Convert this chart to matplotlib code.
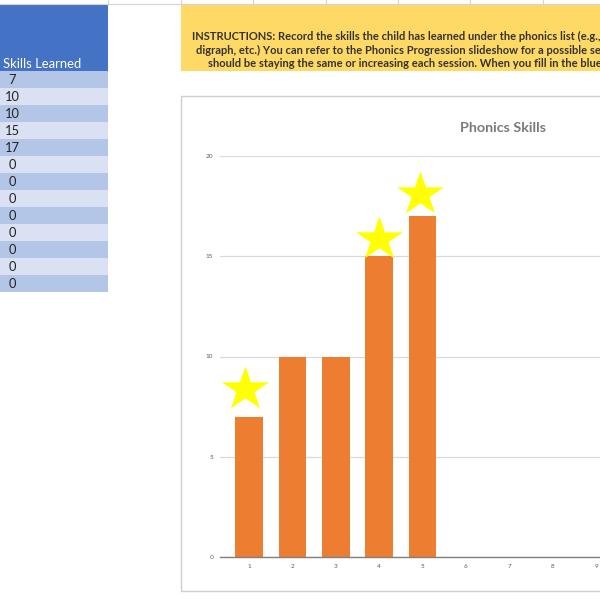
import matplotlib
matplotlib.use("Agg")
import matplotlib.pyplot as plt
from matplotlib.patches import Rectangle
from matplotlib.path import Path
import numpy as np

# ---- data ----
sessions = list(range(1, 14))
skills = [7, 10, 10, 15, 17, 0, 0, 0, 0, 0, 0, 0, 0]
y_ticks = [0, 5, 10, 15, 20]
star_x = [0.9, 4.0, 4.93]
star_y = [8.37, 15.85, 18.09]
title = "Phonics Skills"
header = "Skills Learned"
instructions = [
    "INSTRUCTIONS: Record the skills the child has learned under the phonics list (e.g., ie",
    "digraph, etc.) You can refer to the Phonics Progression slideshow for a possible sequence",
    "should be staying the same or increasing each session. When you fill in the blue",
]

plt.rcParams['font.family'] = ['Lato', 'DejaVu Sans']

fig = plt.figure(figsize=(6, 6), dpi=100)
bg = fig.add_axes([0, 0, 1, 1])
bg.set_xlim(0, 600)
bg.set_ylim(600, 0)
bg.axis('off')

# top spreadsheet strip
bg.plot([0, 600], [3.5, 3.5], color='#d4d4d4', lw=0.8)
for xv in [108, 181, 253, 326, 398, 470, 543]:
    bg.plot([xv, xv], [0, 3.5], color='#d4d4d4', lw=0.8)

# table
bg.add_patch(Rectangle((0, 4), 108, 67, color='#4472C4', lw=0))
bg.text(3, 68, header, color='white', fontsize=9.4, ha='left', va='baseline')
row_h = 17
for i, v in enumerate(skills):
    c = '#B4C6E7' if i % 2 == 0 else '#D9E1F2'
    y0 = 71 + i * row_h
    bg.add_patch(Rectangle((0, y0), 108, row_h, color=c, lw=0))
    bg.text(12, y0 + row_h / 2 + 0.5, str(v), color='#222222', fontsize=9.3,
            ha='center', va='center')

# yellow instruction box
bg.add_patch(Rectangle((181, 4), 419, 67, color='#FFD966', lw=0))
starts = [192, 196, 208]
bases = [40, 54, 67]
for t, sx, by in zip(instructions, starts, bases):
    bg.text(sx, by, t, color='#333333', fontsize=8.0, fontweight='bold',
            ha='left', va='baseline')

# chart border
bg.add_patch(Rectangle((181, 96), 500, 495, facecolor='white',
                       edgecolor='#d0d0d0', lw=1))
bg.text(503, 128, title, color='#7a7a7a', fontsize=10.3, fontweight='bold',
        ha='center', va='center')

# chart axes
ax = fig.add_axes([220 / 600, 43 / 600, (798.8 - 220) / 600, (557 - 156) / 600])
ax.patch.set_alpha(0)
ax.bar(sessions, skills, width=0.64, color='#ED7D31', zorder=2)
ax.set_xlim(0.332, 13.668)
ax.set_ylim(0, 20)
ax.set_yticks(y_ticks)
ax.set_xticks(sessions)
ax.grid(axis='y', color='#d9d9d9', lw=0.9, zorder=0)
for s in ['top', 'right', 'left']:
    ax.spines[s].set_visible(False)
ax.spines['bottom'].set_color('#7f7f7f')
ax.spines['bottom'].set_linewidth(1)
ax.spines['bottom'].set_zorder(3)
ax.tick_params(axis='both', length=0, labelsize=4.6, labelcolor='#595959')
ax.tick_params(axis='y', pad=5)
ax.tick_params(axis='x', pad=5)

# star marker slightly squashed vertically
base = Path.unit_regular_star(5, 0.381966)
verts = base.vertices.copy()
verts[:, 1] *= 0.94
star = Path(verts, base.codes)
ms = 47 * 72 / 100
ax.plot(star_x, star_y, linestyle='none', marker=star, markersize=ms,
        color='#FFFF00', markeredgewidth=0, zorder=4, clip_on=False)

fig.savefig('out.png', dpi=100)
